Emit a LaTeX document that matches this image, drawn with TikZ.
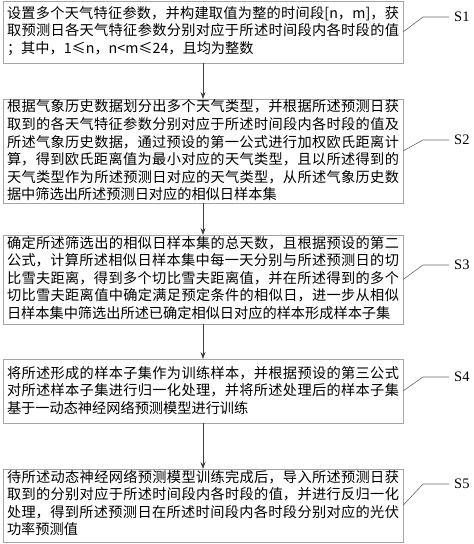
\documentclass[tikz,border=0pt]{standalone}
\usepackage{fontspec}
\setmainfont{Noto Sans CJK SC}
\newfontfamily\labfont{Liberation Serif}
\usetikzlibrary{arrows.meta,calc}
\XeTeXlinebreaklocale "zh"
\XeTeXlinebreakskip = 0pt plus 2pt minus 0.3pt
\newcommand\bxtext[3][0pt]{\parbox[c][#2][t]{392pt}{\fontsize{14.2pt}{17.6pt}\selectfont\vspace*{#1}#3}}
\tikzset{
  stepbox/.style={draw=black!35, line width=0.9pt, anchor=north west, inner xsep=4pt, inner ysep=1pt, outer sep=0pt},
  flowarr/.style={draw=black!75, line width=0.8pt, -{Stealth[length=7pt,width=5pt]}},
  leader/.style={draw=black!60, line width=0.6pt},
  steplab/.style={anchor=west, inner sep=2pt, font=\labfont\fontsize{14.5pt}{16pt}\selectfont}
}
\begin{document}
\begin{tikzpicture}[x=1pt,y=-1pt]
\useasboundingbox (0,0) rectangle (474,544);
\node[stepbox] (b1) at (3,1) {\bxtext[4pt]{60pt}{设置多个天气特征参数，并构建取值为整的时间段[n，m]，获\linebreak 取预测日各天气特征参数分别对应于所述时间段内各时段的值\linebreak；其中，1≤n，n<m≤24，且均为整数}};
\node[stepbox] (b2) at (3,99) {\bxtext{102pt}{根据气象历史数据划分出多个天气类型，并根据所述预测日获\linebreak 取到的各天气特征参数分别对应于所述时间段内各时段的值及\linebreak 所述气象历史数据，通过预设的第一公式进行加权欧氏距离计\linebreak 算，得到欧氏距离值为最小对应的天气类型，且以所述得到的\linebreak 天气类型作为所述预测日对应的天气类型，从所述气象历史数\linebreak 据中筛选出所述预测日对应的相似日样本集}};
\node[stepbox] (b3) at (3,235) {\bxtext{87pt}{确定所述筛选出的相似日样本集的总天数，且根据预设的第二\linebreak 公式，计算所述相似日样本集中每一天分别与所述预测日的切\linebreak 比雪夫距离，得到多个切比雪夫距离值，并在所述得到的多个\linebreak 切比雪夫距离值中确定满足预定条件的相似日，进一步从相似\linebreak 日样本集中筛选出所述已确定相似日对应的样本形成样本子集}};
\node[stepbox] (b4) at (3,359) {\bxtext[6pt]{62pt}{将所述形成的样本子集作为训练样本，并根据预设的第三公式\linebreak 对所述样本子集进行归一化处理，并将所述处理后的样本子集\linebreak 基于一动态神经网络预测模型进行训练}};
\node[stepbox] (b5) at (3,469) {\bxtext{71pt}{待所述动态神经网络预测模型训练完成后，导入所述预测日获\linebreak 取到的分别对应于所述时间段内各时段的值，并进行反归一化\linebreak 处理，得到所述预测日在所述时间段内各时段分别对应的光伏\linebreak 功率预测值}};
\draw[flowarr] (b1.south) -- (b2.north);
\draw[flowarr] (b2.south) -- (b3.north);
\draw[flowarr] (b3.south) -- (b4.north);
\draw[flowarr] (b4.south) -- (b5.north);
\node[steplab] (s1) at (452,17) {S1};
\node[steplab] (s2) at (452,140) {S2};
\node[steplab] (s3) at (452,265) {S3};
\node[steplab] (s4) at (452,377) {S4};
\node[steplab] (s5) at (452,484) {S5};
\draw[leader] (b1.east) -- ([xshift=20pt]b1.east |- s1.west) -- ([xshift=-3pt]s1.west);
\draw[leader] (b2.east) -- ([xshift=20pt]b2.east |- s2.west) -- ([xshift=-3pt]s2.west);
\draw[leader] (b3.east) -- ([xshift=20pt]b3.east |- s3.west) -- ([xshift=-3pt]s3.west);
\draw[leader] (b4.east) -- ([xshift=20pt]b4.east |- s4.west) -- ([xshift=-3pt]s4.west);
\draw[leader] (b5.east) -- ([xshift=20pt]b5.east |- s5.west) -- ([xshift=-3pt]s5.west);
\end{tikzpicture}
\end{document}
